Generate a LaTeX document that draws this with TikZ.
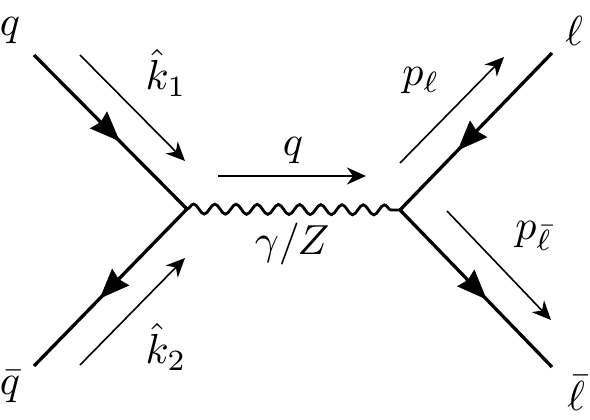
\documentclass[tikz,border=0pt]{standalone}
\usetikzlibrary{decorations.markings,decorations.pathmorphing,arrows.meta}
\tikzset{
  lab/.style={scale=4.2,inner sep=0pt},
  fermion/.style={line width=3.3pt,line cap=butt,postaction={decorate},decoration={markings,mark=at position #1 with {\arrow[line width=0.5pt]{Stealth[length=30pt,width=24pt,inset=3pt]}}}},
  mom/.style={line width=1.6pt,-{Stealth[length=19pt,width=17pt,inset=6pt]}},
  photon/.style={line width=2.8pt,decorate,decoration={snake,segment length=21.2pt,amplitude=5pt}}
}
\begin{document}
\begin{tikzpicture}[x=1pt,y=-1pt]
\useasboundingbox (0,0) rectangle (590,420);
\coordinate (vl) at (187,209);
\coordinate (vr) at (400,210);
\coordinate (a) at (34,55);
\coordinate (b) at (34,366);
\coordinate (c) at (552,53);
\coordinate (d) at (552,367);
\coordinate (k1s) at (80,55);
\coordinate (k1e) at (185,161);
\coordinate (k2s) at (80,365);
\coordinate (k2e) at (185,258);
\coordinate (qs) at (218,176);
\coordinate (qe) at (366,176);
\coordinate (pls) at (400,163);
\coordinate (ple) at (504,57);
\coordinate (pbs) at (447,211);
\coordinate (pbe) at (551,320);
\draw[fermion=0.56] (a) -- (vl);
\draw[fermion=0.57] (vl) -- (b);
\draw[fermion=0.62] (c) -- (vr);
\draw[fermion=0.57] (vr) -- (d);
\draw[photon] (vl) -- (vr);
\draw[mom] (k1s) -- (k1e);
\draw[mom] (k2s) -- (k2e);
\draw[mom] (qs) -- (qe);
\draw[mom] (pls) -- (ple);
\draw[mom] (pbs) -- (pbe);
\node[lab] (tq) at (10,31) {$q$};
\node[lab] (tqb) at (10,387) {$\bar q$};
\node[lab] (tk1) at (166,73) {$\hat k_1$};
\node[lab] (tk2) at (166,347) {$\hat k_2$};
\node[lab] (tqm) at (293,151) {$q$};
\node[lab] (tgz) at (292,244) {$\gamma/Z$};
\node[lab] (tpl) at (421,81) {$p_\ell$};
\node[lab] (tpb) at (534,236) {$p_{\bar\ell}$};
\node[lab] (tl) at (574,31) {$\ell$};
\node[lab] (tlb) at (576,393) {$\bar\ell$};
\end{tikzpicture}
\end{document}
